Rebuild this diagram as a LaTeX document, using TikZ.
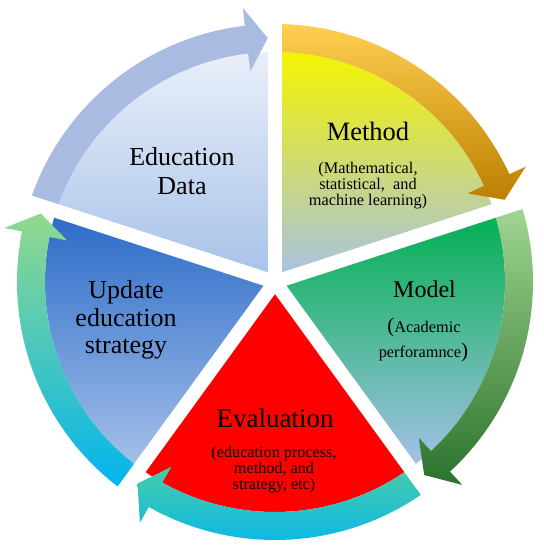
\documentclass[tikz,border=0pt]{standalone}
\usepackage{fontspec}
\setmainfont{Liberation Serif}
\definecolor{edtop}{HTML}{E9EFF9}
\definecolor{lb}{HTML}{A6C1E8}
\definecolor{methtop}{HTML}{F4F400}
\definecolor{methmid}{HTML}{C9DA98}
\definecolor{modtop}{HTML}{00B050}
\definecolor{modmid}{HTML}{1CBAA6}
\definecolor{updtop}{HTML}{2A6AC8}
\definecolor{evred}{HTML}{FF0000}
\definecolor{arrlav}{HTML}{A9BBE0}
\definecolor{orA}{HTML}{FFD050}
\definecolor{orB}{HTML}{FDBA00}
\definecolor{orC}{HTML}{BC7E00}
\definecolor{grA}{HTML}{A2D893}
\definecolor{grB}{HTML}{58B446}
\definecolor{grC}{HTML}{2B722C}
\definecolor{cyA}{HTML}{48CCA8}
\definecolor{cyC}{HTML}{00B4F0}
\definecolor{lfA}{HTML}{92D98C}
\definecolor{lfB}{HTML}{10C2C4}
\newcommand{\ringarrow}[3]{%
  \path[#3] (#1:230) arc[start angle=#1, end angle={#2+5}, radius=230]
   -- ({#2+5}:212) -- (#2:244) -- ({#2+5}:276) -- ({#2+5}:258)
   arc[start angle={#2+5}, end angle=#1, radius=258] -- cycle;}
\newcommand{\piesector}[3]{%
  \path[#3] (0,0) -- (#1:230) arc[start angle=#1, end angle=#2, radius=230] -- cycle;}
\tikzset{
  bigtxt/.style={font=\fontsize{26}{26}\selectfont, inner sep=0pt, anchor=base},
  smalltxt/.style={font=\fontsize{16.3}{16}\selectfont, inner sep=0pt, anchor=base},
  gapline/.style={white, line width=14pt}
}
\begin{document}
\begin{tikzpicture}[x=1pt,y=1pt]
\useasboundingbox (0,0) rectangle (544,550);
\fill[white] (0,0) rectangle (544,550);
\coordinate (c) at (275,268);
\begin{scope}[shift={(c)}]
  % pie sectors
  \piesector{90}{162}{top color=edtop, bottom color=lb}
  \piesector{18}{90}{top color=methtop, middle color=methmid, bottom color=lb}
  \piesector{-54}{18}{top color=modtop, middle color=modmid, bottom color=lb}
  \piesector{-126}{-54}{fill=evred}
  \piesector{162}{234}{top color=updtop, bottom color=lb}
  % ring arrows
  \ringarrow{162}{91.7}{fill=arrlav}
  \ringarrow{90}{19.7}{top color=orA, middle color=orB, bottom color=orC}
  \ringarrow{18}{-52.3}{top color=grA, middle color=grB, bottom color=grC}
  \ringarrow{-54}{-124.3}{top color=cyA, middle color=cyC, bottom color=cyC}
  \ringarrow{234}{163.7}{top color=lfA, middle color=lfB, bottom color=cyC}
  % white gaps
  \foreach \a in {90,18,-54,-126,162}
    \draw[gapline] (0,0) -- (\a:284);
\end{scope}
% texts
\node[bigtxt] (ed1) at (182,384.3) {Education};
\node[bigtxt] (ed2) at (182,355.2) {Data};
\node[bigtxt, font=\fontsize{26.5}{26}\selectfont] (me1) at (368,409.3) {Method};
\node[smalltxt] (me2) at (368,376.7) {(Mathematical,};
\node[smalltxt] (me3) at (368,360) {statistical,\ \ and};
\node[smalltxt] (me4) at (368,344) {machine learning)};
\node[bigtxt, font=\fontsize{24}{24}\selectfont] (mo1) at (424.5,252.7) {Model};
\node[smalltxt] (mo2) at (424,217.3) {{\fontsize{21}{21}\selectfont(}Academic};
\node[smalltxt] (mo3) at (423.5,192.7) {perforamnce{\fontsize{21}{21}\selectfont)}};
\node[bigtxt] (up1) at (126,251.7) {Update};
\node[bigtxt] (up2) at (126,223.3) {education};
\node[bigtxt] (up3) at (126,196.7) {strategy};
\node[bigtxt, font=\fontsize{27}{27}\selectfont] (ev1) at (275,122.7) {Evaluation};
\node[smalltxt, font=\fontsize{16.2}{16}\selectfont] (ev2) at (274,92.7) {(education process,};
\node[smalltxt, font=\fontsize{16.2}{16}\selectfont] (ev3) at (274,76) {method, and};
\node[smalltxt, font=\fontsize{16.2}{16}\selectfont] (ev4) at (274,60.7) {strategy, etc)};
\end{tikzpicture}
\end{document}
